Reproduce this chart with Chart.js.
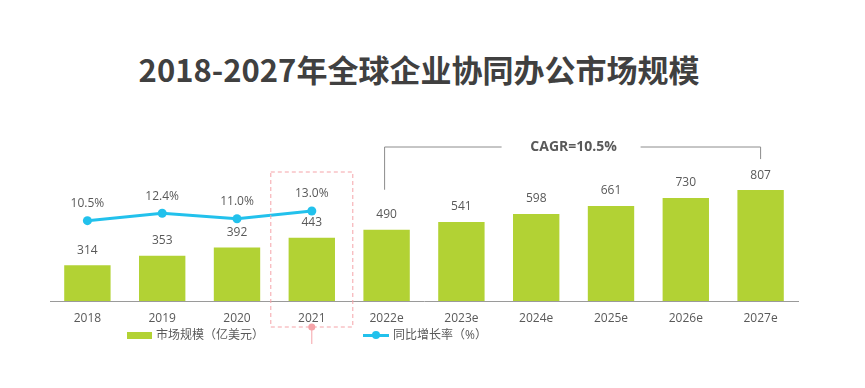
<!DOCTYPE html>
<html>
<head>
<meta charset="utf-8">
<script src="https://cdn.jsdelivr.net/npm/chart.js@4.4.0/dist/chart.umd.min.js"></script>
<style>
  html, body { margin: 0; padding: 0; background: #fff; }
  #wrap { position: relative; width: 865px; height: 388px; }
  #title {
    position: absolute; left: 0; top: 47px; width: 838px; text-align: center;
    font: bold 31px "Noto Sans CJK SC", "Open Sans", sans-serif; color: #404040;
    margin: 0; line-height: 44px;
  }
  #chart { position: absolute; left: 0; top: 0; }
  .leg { position: absolute; top: 327px; font: 12px "Open Sans", "Noto Sans CJK SC", sans-serif; color: #595959; line-height: 16px; }
  .leg i { display: inline-block; vertical-align: middle; margin-right: 4px; position: relative; }
  .bar-key { width: 25px; height: 7px; background: #b2d234; }
  .line-key { width: 26px; height: 3px; background: #22c1ec; }
  .line-key:after { content: ""; position: absolute; left: 9px; top: -3px; width: 8px; height: 8px; border-radius: 50%; background: #22c1ec; }
</style>
</head>
<body>
<div id="wrap">
  <h1 id="title">2018-2027年全球企业协同办公市场规模</h1>
  <canvas id="chart" width="865" height="388"></canvas>
  <div class="leg" style="left:127px"><i class="bar-key"></i>市场规模（亿美元）</div>
  <div class="leg" style="left:363px"><i class="line-key"></i>同比增长率（%）</div>
</div>
<script>
// data
const years = ["2018", "2019", "2020", "2021", "2022e", "2023e", "2024e", "2025e", "2026e", "2027e"];
const marketSize = [314, 353, 392, 443, 490, 541, 598, 661, 730, 807];
const growthRate = [10.5, 12.4, 11.0, 13.0, null, null, null, null, null, null];
const cagrText = "CAGR=10.5%";
const highlightYear = "2021";

const labelColor = "#595959";
const fontFamily = '"Open Sans", "Noto Sans CJK SC", sans-serif';

// value labels, CAGR bracket, highlight box
const extras = {
  id: "extras",
  afterDatasetsDraw(chart) {
    const ctx = chart.ctx;
    const x = chart.scales.x;
    ctx.save();
    ctx.font = "12px " + fontFamily;
    ctx.fillStyle = labelColor;
    ctx.textAlign = "center";
    ctx.textBaseline = "middle";
    chart.getDatasetMeta(0).data.forEach((bar, i) => {
      ctx.fillText(String(marketSize[i]), bar.x, bar.y - 15);
    });
    chart.getDatasetMeta(1).data.forEach((pt, i) => {
      if (growthRate[i] == null) return;
      ctx.fillText(growthRate[i].toFixed(1) + "%", pt.x, pt.y - 17);
    });

    // CAGR bracket
    const bars = chart.getDatasetMeta(0).data;
    const first = bars[4], last = bars[9];
    const topY = 147;
    const midX = (first.x + last.x) / 2;
    ctx.strokeStyle = "#8c8c8c";
    ctx.lineWidth = 1;
    ctx.beginPath();
    ctx.moveTo(first.x - 2, first.y - 40);
    ctx.lineTo(first.x - 2, topY);
    ctx.lineTo(midX - 72, topY);
    ctx.moveTo(midX + 67, topY);
    ctx.lineTo(last.x, topY);
    ctx.lineTo(last.x, last.y - 31);
    ctx.stroke();
    ctx.font = "bold 14px " + fontFamily;
    ctx.fillText(cagrText, midX, topY);

    // highlight box around 2021
    const hx = x.getPixelForValue(years.indexOf(highlightYear));
    ctx.strokeStyle = "#f5a3a8";
    ctx.setLineDash([4, 3]);
    ctx.strokeRect(hx - 41, 172, 82, 155);
    ctx.setLineDash([]);
    ctx.beginPath();
    ctx.moveTo(hx, 327);
    ctx.lineTo(hx, 344);
    ctx.stroke();
    ctx.fillStyle = "#f5a3a8";
    ctx.beginPath();
    ctx.arc(hx, 327, 3.5, 0, Math.PI * 2);
    ctx.fill();
    ctx.restore();
  }
};

new Chart(document.getElementById("chart"), {
  data: {
    labels: years,
    datasets: [
      {
        type: "bar",
        label: "市场规模（亿美元）",
        data: marketSize,
        backgroundColor: "#b2d234",
        categoryPercentage: 1,
        barPercentage: 0.62,
        yAxisID: "y",
        order: 2
      },
      {
        type: "line",
        label: "同比增长率（%）",
        data: growthRate,
        borderColor: "#22c1ec",
        backgroundColor: "#22c1ec",
        borderWidth: 3,
        pointRadius: 4.5,
        pointBorderWidth: 0,
        tension: 0,
        yAxisID: "y2",
        order: 1
      }
    ]
  },
  options: {
    responsive: false,
    animation: false,
    layout: { padding: { left: 50, right: 67, top: 150, bottom: 0 } },
    plugins: { legend: { display: false }, title: { display: false }, tooltip: { enabled: false } },
    scales: {
      x: {
        offset: true,
        grid: { display: false, drawTicks: false },
        border: { display: true, color: "#9a9a9a", width: 1 },
        ticks: { color: labelColor, font: { size: 12, family: fontFamily }, padding: 10 },
        afterFit: s => { s.height = 87; }
      },
      y: { type: "logarithmic", min: 200, max: 1336, display: false },
      y2: { type: "linear", min: -10.2, max: 28.7, display: false }
    }
  },
  plugins: [extras]
});
</script>
</body>
</html>
